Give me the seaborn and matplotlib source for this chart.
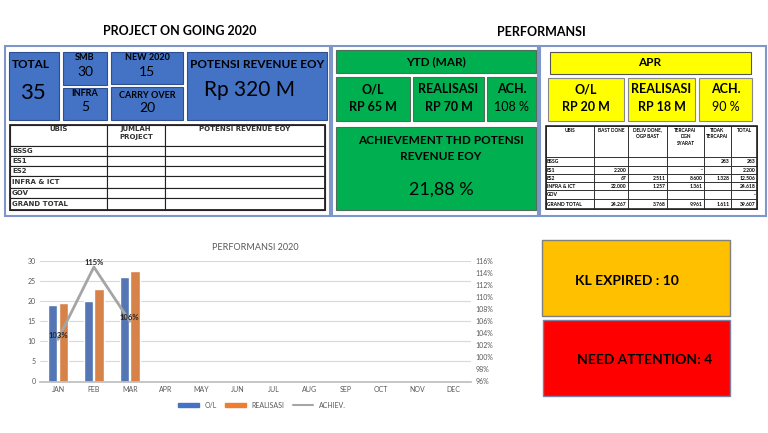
import numpy as np
import pandas as pd
import seaborn as sns
import matplotlib.pyplot as plt
from matplotlib.patches import Rectangle, Patch
from matplotlib.lines import Line2D

# ---- data ----
months = ['JAN', 'FEB', 'MAR', 'APR', 'MAY', 'JUN', 'JUL', 'AUG', 'SEP', 'OCT', 'NOV', 'DEC']
ol = [19, 20, 26]
realisasi = [19.5, 23, 27.5]
achiev = [1.03, 1.15, 1.06]
achiev_labels = ['103%', '115%', '106%']

total_project = '35'
smb, infra = '30', '5'
new_2020, carry_over = '15', '20'
potensi_eoy = 'Rp 320 M'

kpi_labels = ['O/L', 'REALISASI', 'ACH.']
ytd_values = ['RP 65 M', 'RP 70 M', '108 %']
apr_values = ['RP 20 M', 'RP 18 M', '90 %']
achiev_eoy = '21,88 %'

ubis = ['BSSG', 'ES1', 'ES2', 'INFRA & ICT', 'GOV', 'GRAND TOTAL']
left_cols = ['UBIS', 'JUMLAH\nPROJECT', 'POTENSI REVENUE EOY']

right_cols = ['UBIS', 'BAST DONE', 'DELIV DONE,\nOGP BAST', 'TERCAPAI\nDGN\nSYARAT', 'TIDAK\nTERCAPAI', 'TOTAL']
bast_done = ['', '2.200', '67', '22.000', '', '24.267']
deliv_done = ['', '', '2.511', '1.257', '', '3.768']
tercapai = ['', '-', '8.600', '1.361', '', '9.961']
tidak_tercapai = ['283', '', '1.328', '', '', '1.611']
total = ['283', '2.200', '12.506', '24.618', '-', '39.607']

kl_expired = 10
need_attention = 4

sns.set_theme(style='white')
plt.rcParams['font.family'] = ['Lato', 'DejaVu Sans']

fig = plt.figure(figsize=(7.68, 4.33), dpi=100)
ax = fig.add_axes([0, 0, 1, 1])
ax.set_xlim(0, 768)
ax.set_ylim(433, 0)
ax.axis('off')


def box(x0, y0, x1, y1, face, edge='#555555', lw=0.8, z=1):
    ax.add_patch(Rectangle((x0, y0), x1 - x0, y1 - y0, facecolor=face, edgecolor=edge, lw=lw, zorder=z))


def txt(x, y, s, size, bold=True, color='black', **kw):
    ax.text(x, y, s, fontsize=size, fontweight='bold' if bold else 'normal', color=color,
            ha=kw.pop('ha', 'center'), va=kw.pop('va', 'center'), **kw)


# titles
txt(180, 31, 'PROJECT ON GOING 2020', 9)
txt(541, 32, 'PERFORMANSI', 9)

# frames
for x0, x1 in [(5, 330), (332, 538), (540, 766)]:
    box(x0, 46, x1, 216, 'white', '#7F96C8', 1.5, 0)

# ---- project on going (blue) ----
blue, bedge = '#4472C4', '#2F4F8F'
box(9, 52, 59, 120, blue, bedge)
txt(31, 64, 'TOTAL', 8.5)
txt(33, 93, total_project, 16, bold=False)
box(63, 52, 107, 85, blue, bedge)
txt(85, 58, 'SMB', 6.5)
txt(85, 72, smb, 10, bold=False)
box(63, 88, 107, 120, blue, bedge)
txt(85, 93, 'INFRA', 6.5)
txt(85, 107, infra, 10, bold=False)
box(111, 52, 183, 84, blue, bedge)
txt(147, 58, 'NEW 2020', 6.5)
txt(147, 72, new_2020, 10, bold=False)
box(111, 87, 183, 120, blue, bedge)
txt(147, 96, 'CARRY OVER', 6.5)
txt(147, 108, carry_over, 10, bold=False)
box(187, 52, 327, 120, blue, bedge)
txt(257, 64, 'POTENSI REVENUE EOY', 8.5)
txt(250, 90, potensi_eoy, 15, bold=False)

# left table
lx = [10, 107, 165, 325]
ly = [125, 146, 156, 166, 176, 188, 198, 210]
for i in range(len(ly) - 1):
    for j in range(len(lx) - 1):
        box(lx[j], ly[i], lx[j + 1], ly[i + 1], 'white', '#222222', 0.8)
ax.add_patch(Rectangle((lx[0], ly[0]), lx[-1] - lx[0], ly[-1] - ly[0], fill=False, edgecolor='#222222', lw=1.3, zorder=2))
for j, c in enumerate(left_cols):
    txt((lx[j] + lx[j + 1]) / 2, ly[0] + 1, c, 5, color='#333333', va='top', family='DejaVu Sans', linespacing=1.3)
for i, u in enumerate(ubis):
    txt(lx[0] + 2, (ly[i + 1] + ly[i + 2]) / 2, u, 5, ha='left', color='#333333', family='DejaVu Sans')

# ---- YTD (green) ----
green, gedge = '#00B050', '#4F6F5A'
box(336, 50, 536, 73, green, gedge)
txt(436, 62, 'YTD (MAR)', 8.5)
gx = [(336, 410), (413, 484), (487, 536)]
for (x0, x1), lab, val in zip(gx, kpi_labels, ytd_values):
    box(x0, 77, x1, 121, green, gedge)
    txt((x0 + x1) / 2, 89, lab, 9)
    txt((x0 + x1) / 2, 107, val, 9, bold=(lab != 'ACH.'))
box(336, 127, 536, 210, green, gedge)
txt(441, 141, 'ACHIEVEMENT THD POTENSI', 8.5)
txt(441, 157, 'REVENUE EOY', 8.5)
txt(441, 190, achiev_eoy, 13, bold=False)

# ---- APR (yellow) ----
yellow = '#FFFF00'
box(550, 52, 751, 74, yellow, '#555555')
txt(650, 63, 'APR', 8.5)
yx = [(548, 624), (628, 695), (699, 752)]
for (x0, x1), lab, val in zip(yx, kpi_labels, apr_values):
    box(x0, 78, x1, 121, yellow, '#888888')
    txt((x0 + x1) / 2, 89, lab, 9)
    txt((x0 + x1) / 2, 107, val, 9, bold=(lab != 'ACH.'))

# right table
rx = [546, 594, 628, 667, 704, 731, 757]
ry = [126, 157, 166, 174, 182, 190, 199, 209]
cols = [bast_done, deliv_done, tercapai, tidak_tercapai, total]
for i in range(len(ry) - 1):
    for j in range(len(rx) - 1):
        box(rx[j], ry[i], rx[j + 1], ry[i + 1], 'white', '#222222', 0.6)
ax.add_patch(Rectangle((rx[0], ry[0]), rx[-1] - rx[0], ry[-1] - ry[0], fill=False, edgecolor='#222222', lw=1.2, zorder=2))
for j, c in enumerate(right_cols):
    txt((rx[j] + rx[j + 1]) / 2, ry[0] + 1.5, c, 3.4, va='top', linespacing=1.4)
for i, u in enumerate(ubis):
    yc = (ry[i + 1] + ry[i + 2]) / 2
    txt(rx[0] + 1, yc, u, 3.6, ha='left')
    for j, col in enumerate(cols):
        txt(rx[j + 2] - 1.5, yc, col[i], 3.6, ha='right')

# ---- alerts ----
box(542, 240, 730, 316, '#FFC000', '#7F7F7F', 1)
txt(575, 281, f'KL EXPIRED : {kl_expired}', 10, ha='left')
box(543, 320, 730, 396, '#FF0000', '#7F7F9F', 1)
txt(577, 360, f'NEED ATTENTION: {need_attention}', 10, ha='left')

# ---- chart ----
chart_df = pd.DataFrame({
    'month': months[:len(ol)] * 2,
    'value': ol + realisasi,
    'series': ['O/L'] * len(ol) + ['REALISASI'] * len(realisasi),
})
tick_color = '#595959'
cax = fig.add_axes([40 / 768, (433 - 381.5) / 433, 431 / 768, 120.5 / 433])
sns.barplot(data=chart_df, x='month', y='value', hue='series', order=months,
            palette=['#4472C4', '#ED7D31'], width=0.58, gap=0.12, ax=cax, legend=False)
cax.set_ylim(0, 30)
cax.set_yticks(range(0, 31, 5))
cax.set_xlim(-0.5, 11.5)
cax.set_xlabel('')
cax.set_ylabel('')
cax.yaxis.grid(True, color='#D9D9D9', lw=0.8)
cax.set_axisbelow(True)
for s in ['top', 'right', 'left']:
    cax.spines[s].set_visible(False)
cax.spines['bottom'].set_color('#BFBFBF')
cax.tick_params(axis='both', labelsize=5, colors=tick_color, length=0, pad=3)
cax.set_title('PERFORMANSI 2020', fontsize=6.5, color=tick_color, pad=8)

ax2 = cax.twinx()
sns.lineplot(x=list(range(len(achiev))), y=achiev, color='#A5A5A5', lw=2, ax=ax2)
ax2.set_ylim(0.96, 1.16)
ax2.set_yticks(np.arange(0.96, 1.161, 0.02))
ax2.set_yticklabels([f'{v:.0f}%' for v in np.arange(96, 117, 2)])
ax2.tick_params(axis='y', labelsize=5, colors=tick_color, length=0, pad=3)
for s in ax2.spines.values():
    s.set_visible(False)
for i, (a, lab) in enumerate(zip(achiev, achiev_labels)):
    ax2.annotate(lab, (i, a), xytext=(0, 0.5), textcoords='offset points',
                 ha='center', va='bottom', fontsize=5.5, fontweight='bold')
cax.set_xlim(-0.5, 11.5)

handles = [Patch(color='#4472C4', label='O/L'), Patch(color='#ED7D31', label='REALISASI'),
           Line2D([], [], color='#A5A5A5', lw=1.5, label='ACHIEV.')]
leg = fig.legend(handles=handles, loc='center', bbox_to_anchor=(262 / 768, 1 - 405 / 433), ncol=3,
                 frameon=False, fontsize=5, handlelength=3, handleheight=0.6, columnspacing=1.2)
for t in leg.get_texts():
    t.set_color(tick_color)

fig.savefig('out.png', dpi=100)
